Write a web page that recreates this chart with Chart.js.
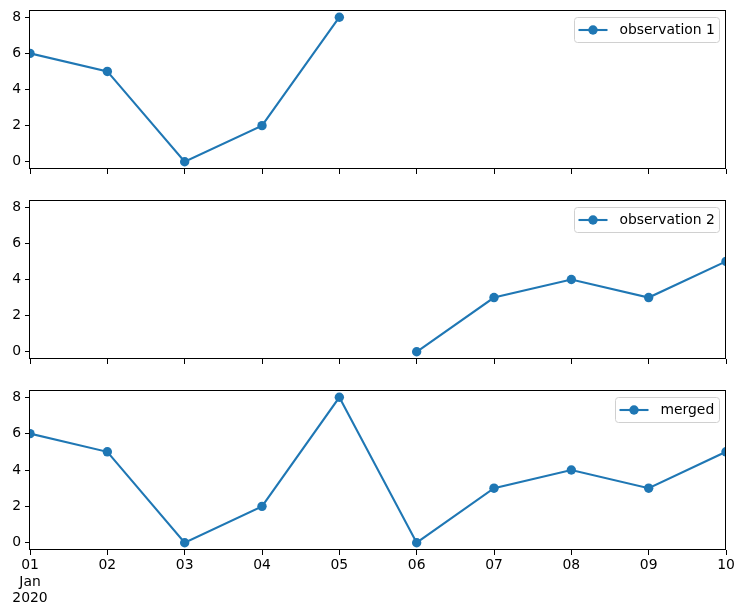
<!DOCTYPE html>
<html>
<head>
<meta charset="utf-8">
<script src="https://cdn.jsdelivr.net/npm/chart.js@4"></script>
<style>
  html, body { margin: 0; padding: 0; background: #fff; }
  #fig { position: relative; width: 744px; height: 615px; overflow: hidden; }
  #fig canvas { position: absolute; left: 0; }
</style>
</head>
<body>
<div id="fig">
  <canvas id="obs1Chart" width="744" height="190" style="top:0px"></canvas>
  <canvas id="obs2Chart" width="744" height="190" style="top:190px"></canvas>
  <canvas id="mergedChart" width="744" height="235" style="top:380px"></canvas>
</div>
<script>
/* ---- data (Jan 2020, day of month) ---- */
const allDays = [1, 2, 3, 4, 5, 6, 7, 8, 9, 10];
const dayLabels = ['01', '02', '03', '04', '05', '06', '07', '08', '09', '10'];
const obs1Days = [1, 2, 3, 4, 5];
const obs1Values = [6, 5, 0, 2, 8];
const obs2Days = [6, 7, 8, 9, 10];
const obs2Values = [0, 3, 4, 3, 5];
const mergedValues = [6, 5, 0, 2, 8, 0, 3, 4, 3, 5];
const yTicks = [0, 2, 4, 6, 8];

const BLUE = '#1f77b4';
const FONT_FAMILY = "'DejaVu Sans', 'Liberation Sans', sans-serif";
const FONT_SIZE = 13.9;

Chart.defaults.color = '#000';
Chart.defaults.font.family = FONT_FAMILY;
Chart.defaults.font.size = FONT_SIZE;

const toPoints = (xs, ys) => xs.map((x, i) => ({ x, y: ys[i] }));

/* matplotlib-style frame + legend box in the upper right */
const axesDecor = {
  id: 'axesDecor',
  afterDraw(chart) {
    const { ctx, chartArea: a } = chart;
    ctx.save();
    ctx.strokeStyle = '#000';
    ctx.lineWidth = 1;
    ctx.strokeRect(Math.round(a.left) - 0.5, Math.round(a.top) + 0.5,
      Math.round(a.right - a.left), Math.round(a.bottom - a.top) - 1);

    const ds = chart.data.datasets[0];
    ctx.font = `${FONT_SIZE}px ${FONT_FAMILY}`;
    const tw = ctx.measureText(ds.label).width;
    const w = Math.round(45 + tw + 5), h = 25;
    const x = Math.round(a.right - 7 - w) + 0.5, y = Math.round(a.top + 7) + 0.5;
    ctx.beginPath();
    ctx.roundRect(x, y, w, h, 3);
    ctx.fillStyle = 'rgba(255,255,255,0.8)';
    ctx.fill();
    ctx.strokeStyle = '#d0d0d0';
    ctx.stroke();

    const cy = y + h / 2;
    ctx.beginPath();
    ctx.moveTo(x + 4, cy);
    ctx.lineTo(x + 33, cy);
    ctx.strokeStyle = BLUE;
    ctx.lineWidth = 2.1;
    ctx.stroke();
    ctx.beginPath();
    ctx.arc(x + 18.5, cy, 4.7, 0, Math.PI * 2);
    ctx.fillStyle = BLUE;
    ctx.fill();

    ctx.fillStyle = '#000';
    ctx.textBaseline = 'middle';
    ctx.textAlign = 'left';
    ctx.fillText(ds.label, x + 45, cy + 0.5);
    ctx.restore();
  },
};

function makeChart(id, label, points, canvasH, padTop, plotH, showXLabels) {
  const xHeight = canvasH - padTop - plotH;
  return new Chart(document.getElementById(id), {
    type: 'line',
    data: {
      datasets: [{
        label,
        data: points,
        borderColor: BLUE,
        backgroundColor: BLUE,
        pointBackgroundColor: BLUE,
        borderWidth: 2.1,
        pointRadius: 4.7,
        pointBorderWidth: 0,
        pointHoverRadius: 4.7,
        tension: 0,
        clip: 0,
      }],
    },
    options: {
      responsive: false,
      animation: false,
      events: [],
      layout: { padding: { top: padTop, right: 18, left: 0, bottom: 0 } },
      plugins: { legend: { display: false }, tooltip: { enabled: false } },
      scales: {
        x: {
          type: 'linear',
          min: 1,
          max: 10,
          afterBuildTicks: (s) => { s.ticks = allDays.map((v) => ({ value: v })); },
          afterFit: (s) => { s.height = xHeight; s.paddingLeft = 0; s.paddingRight = 0; },
          grid: { drawOnChartArea: false, drawTicks: true, tickLength: 5, color: '#000' },
          border: { display: false },
          ticks: {
            display: true,
            padding: 2,
            maxRotation: 0,
            autoSkip: false,
            callback: (v) => {
              if (!showXLabels) return '';
              const lbl = dayLabels[allDays.indexOf(v)];
              return v === 1 ? [lbl, 'Jan', '2020'] : lbl;
            },
          },
        },
        y: {
          min: -0.4,
          max: 8.4,
          afterBuildTicks: (s) => { s.ticks = yTicks.map((v) => ({ value: v })); },
          afterFit: (s) => { s.width = 30; s.paddingTop = 0; s.paddingBottom = 0; },
          grid: { drawOnChartArea: false, drawTicks: true, tickLength: 5, color: '#000' },
          border: { display: false },
          ticks: { padding: 4, callback: (v) => String(v) },
        },
      },
    },
    plugins: [axesDecor],
  });
}

makeChart('obs1Chart', 'observation 1', toPoints(obs1Days, obs1Values), 190, 10, 159, false);
makeChart('obs2Chart', 'observation 2', toPoints(obs2Days, obs2Values), 190, 10, 159, false);
makeChart('mergedChart', 'merged', toPoints(allDays, mergedValues), 235, 10, 160, true);
</script>
</body>
</html>
